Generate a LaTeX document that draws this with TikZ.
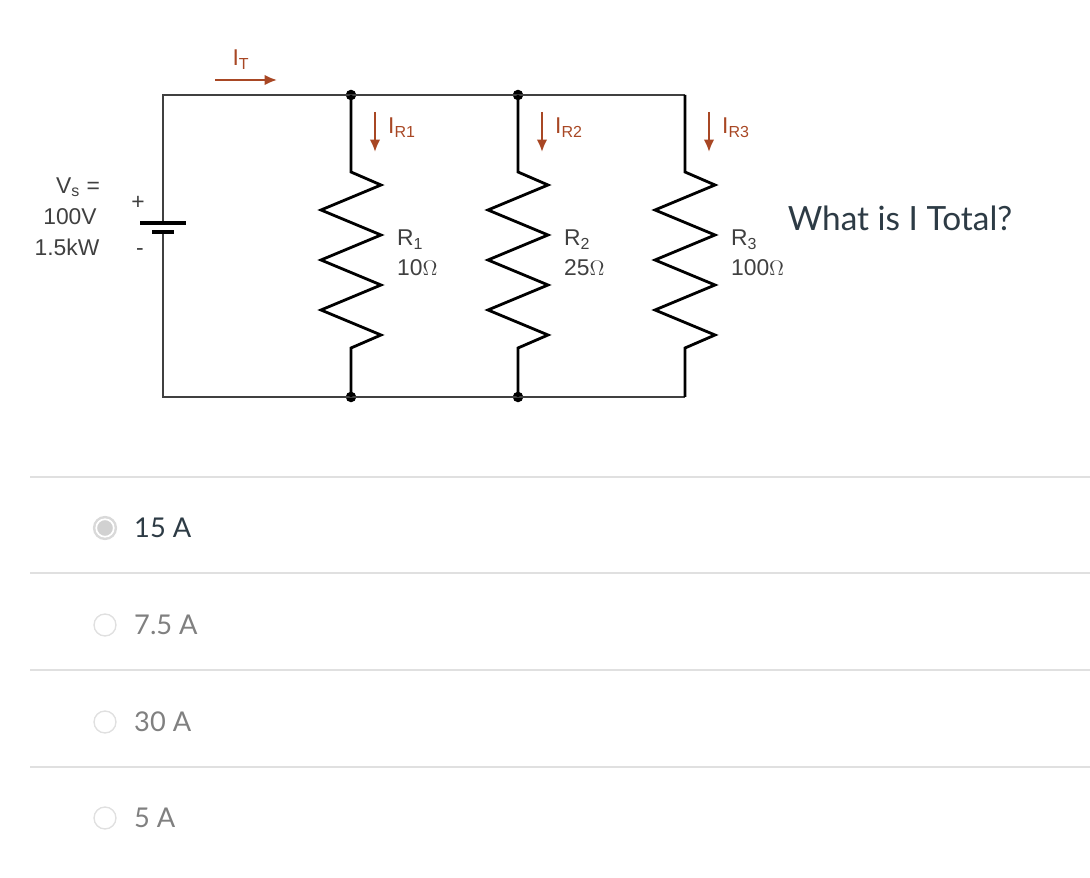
\documentclass[tikz,border=0pt]{standalone}
\usepackage{fontspec}
\setmainfont{Liberation Sans}
\newfontfamily\lato{Lato}
\usetikzlibrary{arrows.meta}
\begin{document}
\begin{tikzpicture}[x=0.02cm,y=-0.02cm,
  wire/.style={line width=1.6pt,draw=black!75},
  res/.style={line width=1.6pt,draw=black},
  cur/.style={draw=brown!70!red!80!black,line width=1.2pt,-{Latex[length=7pt,width=6pt]}},
  curlbl/.style={text=brown!70!red!80!black,font=\fontsize{13}{13}\selectfont},
  lbl/.style={text=black!75,font=\fontsize{13}{14}\selectfont,align=left,inner sep=1pt},
  dot/.style={circle,fill=black,inner sep=0pt,minimum size=6pt},
  sep/.style={draw=black!12,line width=1pt},
  radio/.style={circle,draw=black!12,line width=0.8pt,minimum size=12.5pt,inner sep=0pt},
  opt/.style={anchor=west,font=\lato\fontsize{15.5}{16}\selectfont}]
\useasboundingbox (0,0) rectangle (1090,878);
% corners and junctions
\coordinate (tl) at (163,95); \coordinate (bl) at (163,397);
\coordinate (tr) at (685,95); \coordinate (br) at (685,397);
\node[dot] (t1) at (351,95) {}; \node[dot] (t2) at (518,95) {};
\node[dot] (b1) at (351,397) {}; \node[dot] (b2) at (518,397) {};
\coordinate (bp) at (163,223); \coordinate (bn) at (163,232);
\draw[wire] (bp) -- (tl) -- (tr);
\draw[wire] (br) -- (bl) -- (bn);
% battery
\draw[line width=2pt] (140,223) -- (186,223);
\draw[line width=2pt] (152,232) -- (174,232);
\node[lbl] (plus) at (138,203) {+};
\node[lbl] (minus) at (140,252) {-};
\node[lbl] (vs1) at (78,187) {V\textsubscript{s} =};
\node[lbl] (vs2) at (70,217) {100V};
\node[lbl] (vs3) at (67,247) {1.5kW};
% resistors
\foreach \x/\r/\v in {351/1/10,518/2/25,685/3/100}{
  \draw[res] (\x,95) -- (\x,172) -- ++(30,13) -- ++(-60,25) -- ++(60,25) -- ++(-60,25) -- ++(60,25) -- ++(-60,25) -- ++(60,25) -- ++(-30,13) -- (\x,397);
  \draw[cur] (\x+24,112) -- (\x+24,152);
  \node[curlbl,anchor=west] at (\x+31,128) {I\textsubscript{R\r}};
  \node[lbl,anchor=west] at (\x+44,240) {R\textsubscript{\r}};
  \node[lbl,anchor=west] at (\x+44,268) {\v$\Omega$};
}
% IT
\draw[cur] (215,80) -- (277,80);
\node[curlbl] (it) at (241,60) {I\textsubscript{T}};
\node[font=\lato\fontsize{19}{19}\selectfont,text={rgb,255:red,45;green,59;blue,69}] (q) at (900,218) {What is I Total?};
% answers
\foreach \y in {477,573,670,767}{\draw[sep] (30,\y) -- (1090,\y);}
\node[radio,draw=black!15,line width=1.3pt,fill=black!18] (r1) at (105,528) {};
\node[circle,draw=white,line width=1pt,minimum size=10pt,inner sep=0pt] at (105,528) {};
\node[radio] (r2) at (105,625) {};
\node[radio] (r3) at (105,722) {};
\node[radio] (r4) at (105,818) {};
\node[opt,text={rgb,255:red,45;green,59;blue,69}] (a1) at (128,528) {15 A};
\node[opt,text=black!50] (a2) at (128,625) {7.5 A};
\node[opt,text=black!50] (a3) at (128,722) {30 A};
\node[opt,text=black!50] (a4) at (128,818) {5 A};
\end{tikzpicture}
\end{document}
